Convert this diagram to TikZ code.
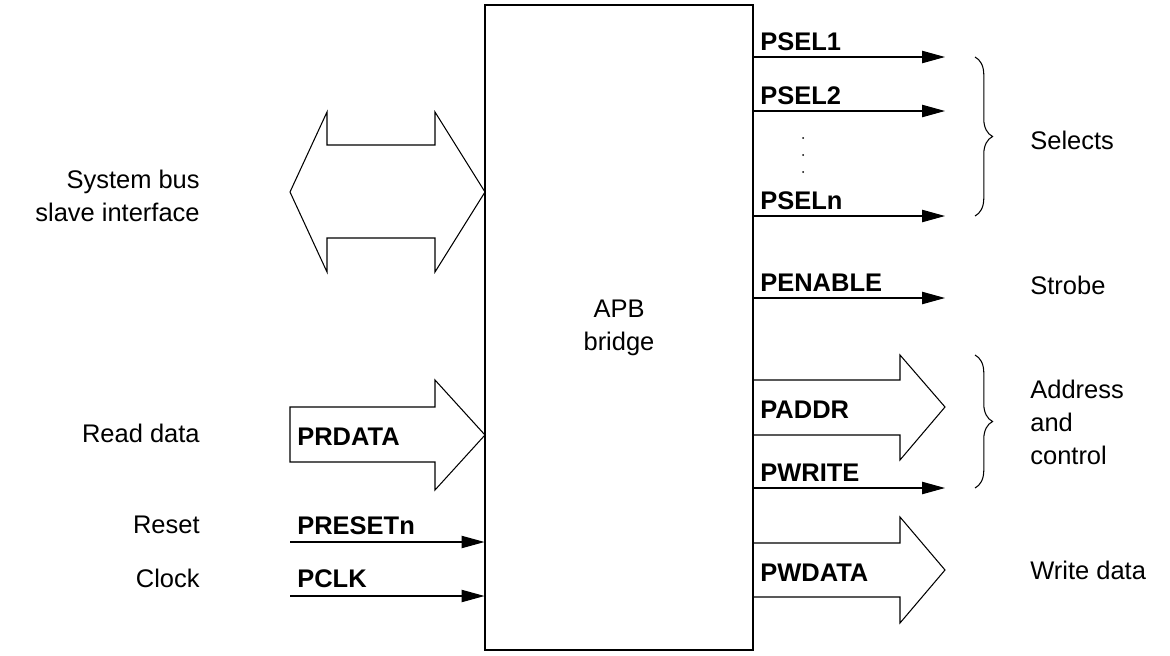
\documentclass[tikz,border=0pt]{standalone}
\usepackage{fontspec}
\setmainfont{Liberation Sans}
\usetikzlibrary{arrows.meta,decorations.pathreplacing}
\begin{document}
\begin{tikzpicture}[x=0.02cm,y=-0.02cm,
  lbl/.style={font=\fontsize{14.5}{18.8}\selectfont,inner sep=0pt},
  sig/.style={font=\fontsize{14.5}{17}\selectfont\bfseries,inner sep=0pt,anchor=west},
  ln/.style={line width=0.6pt},
  wire/.style={line width=0.6pt,-{Triangle[length=13pt,width=7pt]}},
  brc/.style={line width=0.6pt,decorate,decoration={brace,amplitude=10pt}}]
\useasboundingbox (0,0) rectangle (1170,656);
% main box
\node[draw,line width=0.6pt,minimum width=268*0.02cm,minimum height=645*0.02cm,lbl,align=center] (apb) at (619,327.5) {APB\\bridge};
% system bus double arrow
\draw[ln] (290,192) -- (327,112) -- (327,145) -- (435,145) -- (435,112) -- (485,192) -- (435,272) -- (435,238) -- (327,238) -- (327,272) -- cycle;
\node[lbl,anchor=east,align=right] (sb) at (200,196) {System bus\\slave interface};
% PRDATA
\draw[ln] (290,407) -- (435,407) -- (435,380) -- (485,435) -- (435,490) -- (435,462) -- (290,462) -- cycle;
\node[sig] (prdata) at (297,437) {PRDATA};
\node[lbl,anchor=east] (rd) at (200,433) {Read data};
% reset/clock
\coordinate (rs) at (290,542); \coordinate (ck) at (290,596);
\draw[wire] (rs) -- (apb.west |- rs);
\draw[wire] (ck) -- (apb.west |- ck);
\node[sig] (presetn) at (297,526) {PRESETn};
\node[sig] (pclk) at (297,579) {PCLK};
\node[lbl,anchor=east] (reset) at (200,525) {Reset};
\node[lbl,anchor=east] (clock) at (200,578) {Clock};
% right outputs
\foreach \y/\t/\n in {57/PSEL1/s1,111/PSEL2/s2,216/PSELn/sn,298/PENABLE/pe,488/PWRITE/pw}{
  \coordinate (\n e) at (945,\y);
  \draw[wire] (apb.east |- \n e) -- (\n e);
  \node[sig] (\n) at (760,\y-15) {\t};
}
\foreach \y in {138,155,172}{\fill (803,\y) circle (1);}
% PADDR
\draw[ln] (753,380) -- (900,380) -- (900,355) -- (945,407) -- (900,460) -- (900,435) -- (753,435);
\node[sig] (paddr) at (760,410) {PADDR};
% PWDATA
\draw[ln] (753,543) -- (900,543) -- (900,517) -- (945,570) -- (900,623) -- (900,597) -- (753,597);
\node[sig] (pwdata) at (760,573) {PWDATA};
% braces
\draw[brc] (975,57) -- (975,216);
\draw[brc] (975,355) -- (975,488);
\node[lbl,anchor=west] (sel) at (1030,140) {Selects};
\node[lbl,anchor=west] (stb) at (1030,285) {Strobe};
\node[lbl,anchor=west,align=left] (adc) at (1030,422) {Address\\and\\control};
\node[lbl,anchor=west] (wd) at (1030,570) {Write data};
\end{tikzpicture}
\end{document}
